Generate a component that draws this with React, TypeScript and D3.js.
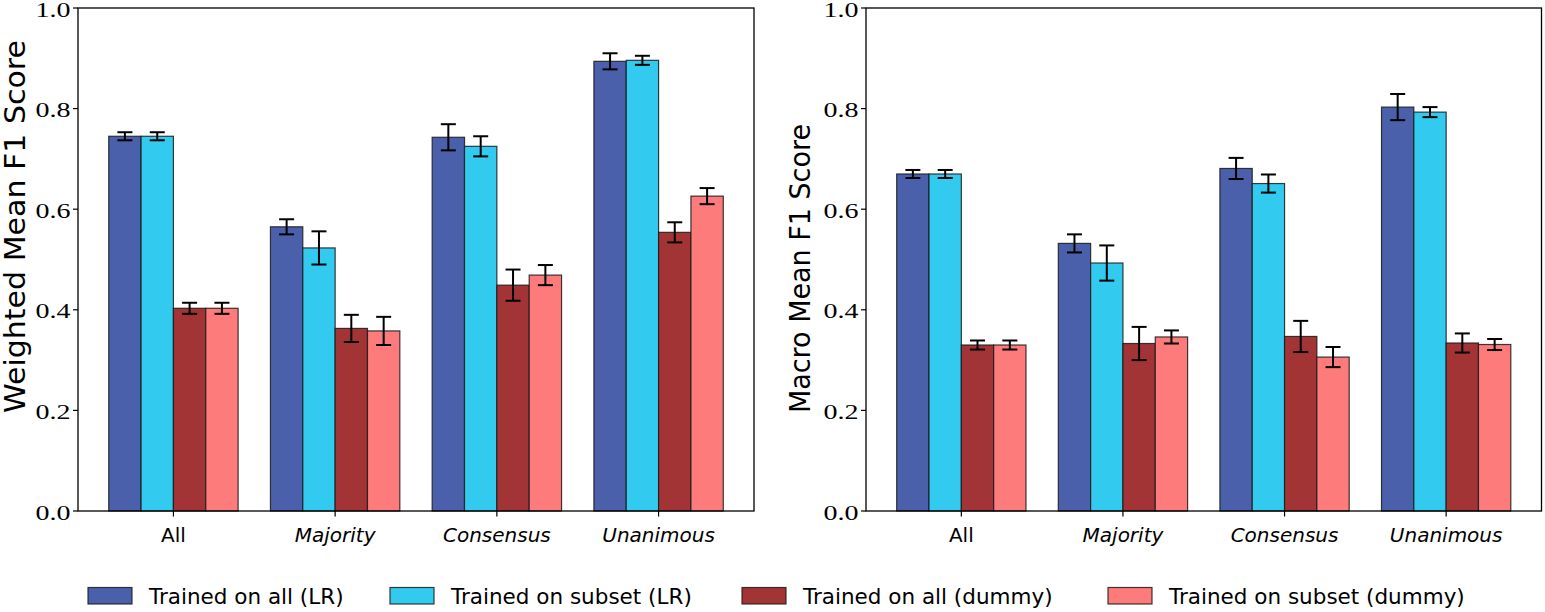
import React from "react";
import * as d3 from "d3";

const categories = ["All", "Majority", "Consensus", "Unanimous"];
const italicCats = [false, true, true, true];
const seriesNames = [
  "Trained on all (LR)",
  "Trained on subset (LR)",
  "Trained on all (dummy)",
  "Trained on subset (dummy)",
];
const seriesColors = ["#4a60aa", "#33caef", "#a33436", "#fe7b7b"];

// Weighted mean F1
const weightedLrAll = [0.745, 0.565, 0.743, 0.894];
const weightedLrAllErr = [0.008, 0.015, 0.026, 0.016];
const weightedLrSub = [0.745, 0.523, 0.725, 0.896];
const weightedLrSubErr = [0.008, 0.033, 0.02, 0.009];
const weightedDumAll = [0.403, 0.363, 0.449, 0.554];
const weightedDumAllErr = [0.011, 0.027, 0.031, 0.02];
const weightedDumSub = [0.403, 0.358, 0.469, 0.626];
const weightedDumSubErr = [0.011, 0.028, 0.02, 0.016];

// Macro mean F1
const macroLrAll = [0.67, 0.532, 0.681, 0.803];
const macroLrAllErr = [0.008, 0.018, 0.021, 0.026];
const macroLrSub = [0.67, 0.493, 0.651, 0.793];
const macroLrSubErr = [0.008, 0.035, 0.018, 0.01];
const macroDumAll = [0.33, 0.333, 0.347, 0.334];
const macroDumAllErr = [0.009, 0.033, 0.031, 0.019];
const macroDumSub = [0.33, 0.346, 0.306, 0.331];
const macroDumSubErr = [0.009, 0.013, 0.02, 0.011];

const yTicks = [0.0, 0.2, 0.4, 0.6, 0.8, 1.0];

const W = 1545;
const H = 612;
const TOP = 8;
const BOTTOM = 511;
const BAR_W = 0.2;
const OFFSETS = [-0.3, -0.1, 0.1, 0.3];

type Panel = {
  left: number;
  right: number;
  label: string;
  labelX: number;
  labelLen: number;
  values: number[][];
  errs: number[][];
};

const panels: Panel[] = [
  {
    left: 78,
    right: 754,
    label: "Weighted Mean F1 Score",
    labelX: 24.5,
    labelLen: 373,
    values: [weightedLrAll, weightedLrSub, weightedDumAll, weightedDumSub],
    errs: [weightedLrAllErr, weightedLrSubErr, weightedDumAllErr, weightedDumSubErr],
  },
  {
    left: 866,
    right: 1541.5,
    label: "Macro Mean F1 Score",
    labelX: 810,
    labelLen: 289,
    values: [macroLrAll, macroLrSub, macroDumAll, macroDumSub],
    errs: [macroLrAllErr, macroLrSubErr, macroDumAllErr, macroDumSubErr],
  },
];

const legendX = [88, 390, 742, 1108];

function PanelView({ p }: { p: Panel }) {
  const x = d3.scaleLinear().domain([-0.59, 3.59]).range([p.left, p.right]);
  const y = d3.scaleLinear().domain([0, 1]).range([BOTTOM, TOP]);
  const bw = x(BAR_W) - x(0);
  return (
    <g>
      {p.values.map((vals, s) =>
        vals.map((v, i) => {
          const cx = x(i + OFFSETS[s]);
          return (
            <rect
              key={`b${s}-${i}`}
              x={cx - bw / 2}
              y={y(v)}
              width={bw}
              height={y(0) - y(v)}
              fill={seriesColors[s]}
              stroke="#1a1a1a"
              strokeOpacity={0.85}
              strokeWidth={1.2}
            />
          );
        })
      )}
      {p.values.map((vals, s) =>
        vals.map((v, i) => {
          const cx = x(i + OFFSETS[s]);
          const e = p.errs[s][i];
          return (
            <g key={`e${s}-${i}`} stroke="#000" strokeWidth={2}>
              <line x1={cx} x2={cx} y1={y(v - e)} y2={y(v + e)} />
              <line x1={cx - 7.5} x2={cx + 7.5} y1={y(v - e)} y2={y(v - e)} />
              <line x1={cx - 7.5} x2={cx + 7.5} y1={y(v + e)} y2={y(v + e)} />
            </g>
          );
        })
      )}
      <rect
        x={p.left}
        y={TOP}
        width={p.right - p.left}
        height={BOTTOM - TOP}
        fill="none"
        stroke="#000"
        strokeWidth={1.3}
      />
      {yTicks.map((t) => (
        <g key={`yt${t}`}>
          <line x1={p.left - 5} x2={p.left} y1={y(t)} y2={y(t)} stroke="#000" strokeWidth={1.2} />
          <text
            x={p.left - 7.5}
            y={y(t) + 8.5}
            textAnchor="end"
            fontFamily="'Liberation Serif', serif"
            fontSize={20}
            textLength={35}
            lengthAdjust="spacingAndGlyphs"
            fill="#000"
          >
            {t.toFixed(1)}
          </text>
        </g>
      ))}
      {categories.map((c, i) => (
        <g key={`xt${c}`}>
          <line x1={x(i)} x2={x(i)} y1={BOTTOM} y2={BOTTOM + 5.5} stroke="#000" strokeWidth={1.2} />
          <text
            x={x(i)}
            y={542}
            textAnchor="middle"
            fontFamily="'DejaVu Sans', sans-serif"
            fontStyle={italicCats[i] ? "italic" : "normal"}
            fontSize={20}
            fill="#000"
          >
            {c}
          </text>
        </g>
      ))}
      <text
        transform={`translate(${p.labelX},413) rotate(-90)`}
        x={0}
        y={0}
        textAnchor="start"
        fontFamily="'DejaVu Sans', sans-serif"
        fontSize={28}
        textLength={p.labelLen}
        lengthAdjust="spacingAndGlyphs"
        fill="#000"
      >
        {p.label}
      </text>
    </g>
  );
}

export default function App() {
  return (
    <svg
      width={W}
      height={H}
      style={{ position: "absolute", left: 0, top: 0, background: "#fff" }}
    >
      <rect x={0} y={0} width={W} height={H} fill="#fff" />
      {panels.map((p, k) => (
        <PanelView key={k} p={p} />
      ))}
      {seriesNames.map((n, s) => (
        <g key={`lg${s}`}>
          <rect
            x={legendX[s]}
            y={587.5}
            width={44}
            height={16.5}
            fill={seriesColors[s]}
            stroke="#1a1a1a"
            strokeOpacity={0.85}
            strokeWidth={1.2}
          />
          <text
            x={legendX[s] + 61}
            y={604}
            fontFamily="'DejaVu Sans', sans-serif"
            fontSize={21.5}
            fill="#000"
          >
            {n}
          </text>
        </g>
      ))}
    </svg>
  );
}
